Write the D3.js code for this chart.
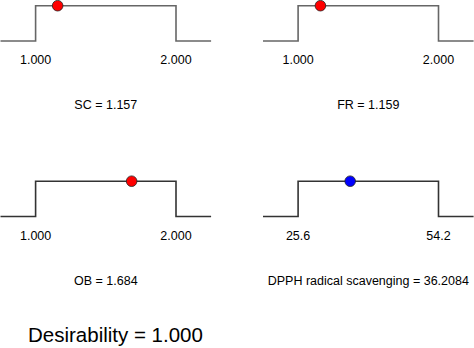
<!DOCTYPE html>
<html>
<head>
<meta charset="utf-8">
<script src="https://cdn.jsdelivr.net/npm/d3@7"></script>
<style>
  html, body { margin: 0; padding: 0; background: #fff; }
  svg { display: block; }
  text { font-family: "Liberation Sans", Arial, sans-serif; fill: #000; }
</style>
</head>
<body>
<svg id="chart" width="474" height="348"></svg>
<script>
const factors = ["SC", "FR", "OB", "DPPH radical scavenging"];
const lows = [1.0, 1.0, 1.0, 25.6];
const highs = [2.0, 2.0, 2.0, 54.2];
const lowLabels = ["1.000", "1.000", "1.000", "25.6"];
const highLabels = ["2.000", "2.000", "2.000", "54.2"];
const currentValues = [1.157, 1.159, 1.684, 36.2084];
const currentLabels = ["1.157", "1.159", "1.684", "36.2084"];
const dotColors = ["#ff0000", "#ff0000", "#ff0000", "#0000ff"];
const desirabilityLabel = "Desirability = 1.000";

const svg = d3.select("#chart");
const origins = [[0, 0], [262.5, 0], [0, 175.5], [262.5, 175.5]];
const lineColors = ["#666", "#666", "#333", "#333"];

factors.forEach((name, i) => {
  const g = svg.append("g").attr("transform", `translate(${origins[i][0]},${origins[i][1]})`);
  const lo = lows[i], hi = highs[i], d = hi - lo;
  const x = d3.scaleLinear().domain([lo, hi]).range([35.6, 176]);
  const y = d3.scaleLinear().domain([0, 1]).range([41, 5.7]);
  const pts = [[lo - 0.25 * d, 0], [lo, 0], [lo, 1], [hi, 1], [hi, 0], [hi + 0.25 * d, 0]];
  const line = d3.line().x(p => x(p[0])).y(p => y(p[1]));
  g.append("path").attr("d", line(pts)).attr("fill", "none")
    .attr("stroke", lineColors[i]).attr("stroke-width", 1.6);
  g.append("circle").attr("cx", x(currentValues[i])).attr("cy", y(1)).attr("r", 5.3)
    .attr("fill", dotColors[i]).attr("stroke", "#222").attr("stroke-width", 0.8);
  g.append("text").attr("x", x(lo)).attr("y", 64).attr("text-anchor", "middle")
    .attr("font-size", "12.5px").text(lowLabels[i]);
  g.append("text").attr("x", x(hi)).attr("y", 64).attr("text-anchor", "middle")
    .attr("font-size", "12.5px").text(highLabels[i]);
  g.append("text").attr("x", x((lo + hi) / 2)).attr("y", 109).attr("text-anchor", "middle")
    .attr("font-size", "12.5px").text(`${name} = ${currentLabels[i]}`);
});

svg.append("text").attr("x", 28).attr("y", 341.5).attr("font-size", "20.5px").text(desirabilityLabel);
</script>
</body>
</html>
